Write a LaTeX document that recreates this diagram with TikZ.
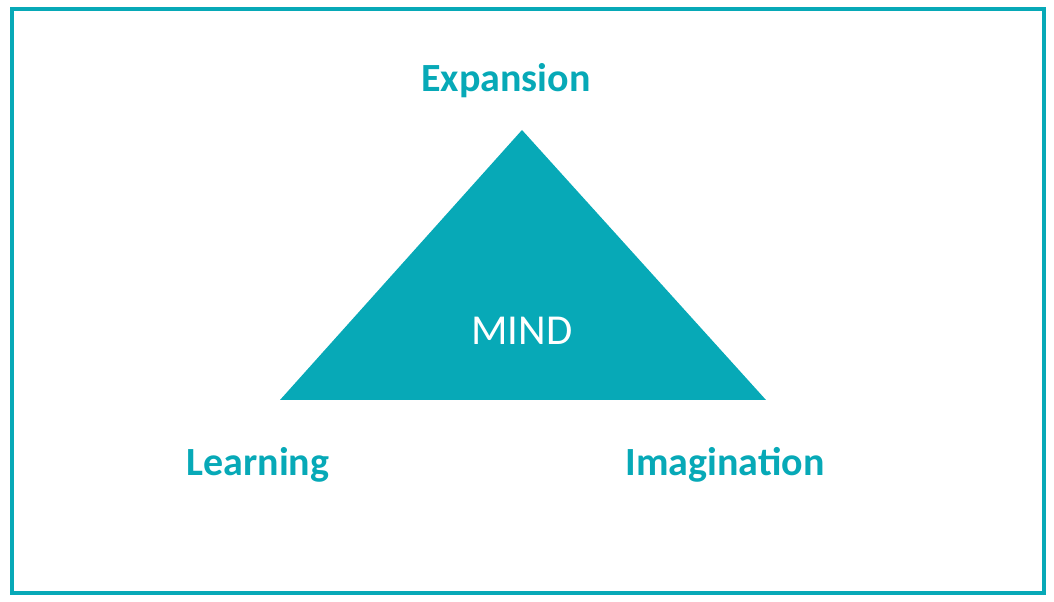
\documentclass[tikz,border=0pt]{standalone}
\usepackage{fontspec}
\setmainfont{Carlito}
\definecolor{teal1}{HTML}{07A9B7}
\begin{document}
\begin{tikzpicture}[x=0.75pt,y=-0.75pt,
  lbl/.style={font=\fontsize{30}{34}\selectfont\bfseries,text=teal1,inner sep=0pt}]
\useasboundingbox (0,0) rectangle (1054,602);
\draw[teal1,line width=3pt] (12,9) rectangle (1044,593);
\fill[teal1] (522,130) -- (280,400) -- (766,400) -- cycle;
\node[font=\fontsize{32}{36}\selectfont,text=white,inner sep=0pt] (mind) at (522,331) {MIND};
\node[lbl] (exp) at (506,81) {Expansion};
\node[lbl] (learn) at (258,465) {Learning};
\node[lbl] (imag) at (725,465) {Imagination};
\end{tikzpicture}
\end{document}
